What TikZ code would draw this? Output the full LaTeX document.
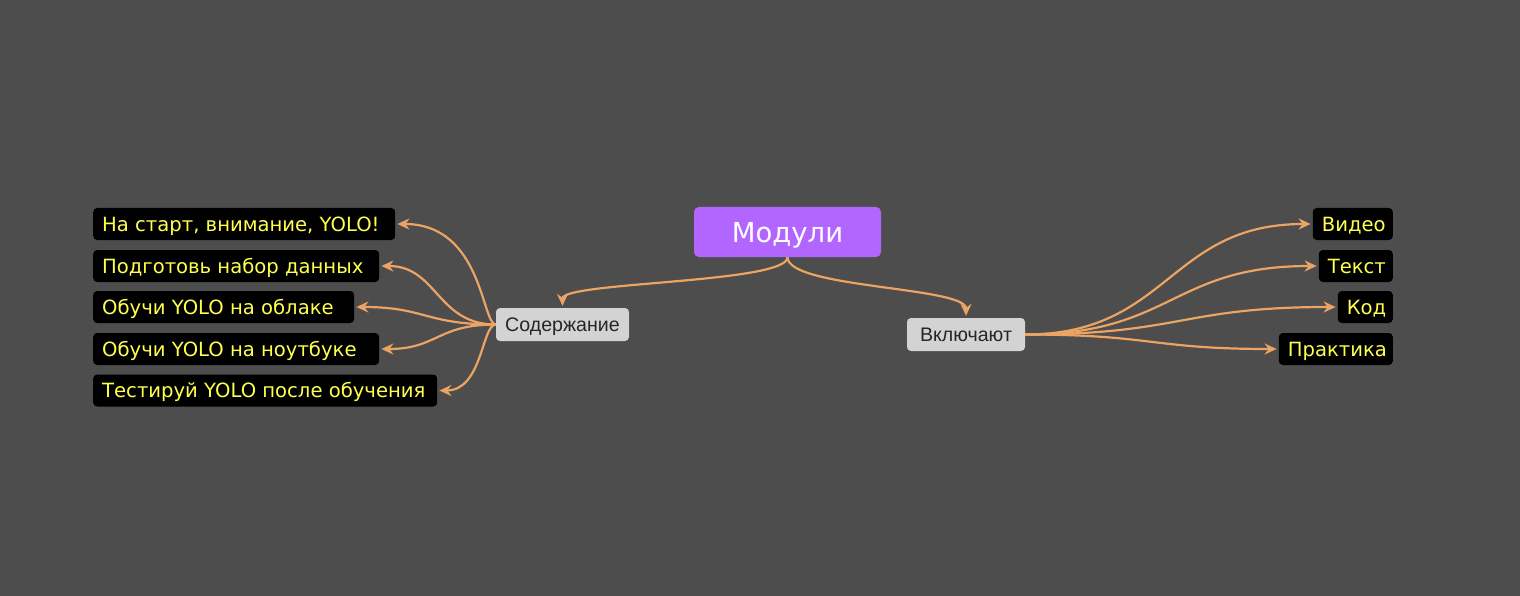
\documentclass[tikz,border=0pt]{standalone}
\usepackage{fontspec}
\setmainfont{DejaVu Sans}
\newfontfamily\midfont{Liberation Sans}
\usetikzlibrary{arrows.meta}
\definecolor{bgc}{HTML}{4D4D4D}
\definecolor{rootc}{HTML}{B266FF}
\definecolor{midc}{HTML}{D3D3D3}
\definecolor{edgec}{HTML}{EBA463}
\definecolor{leaftxt}{HTML}{FFFF4D}
\newcommand{\lbx}[2]{\makebox[#1][l]{#2}}
\tikzset{
  x=1pt, y=1pt,
  rootbox/.style={fill=rootc, rounded corners=5pt, text=white, minimum width=187pt, minimum height=50pt, inner sep=0pt, text height=22pt, text depth=2pt, font=\fontsize{27.5}{30}\selectfont},
  midbox/.style={fill=midc, rounded corners=4pt, text=black!85, minimum height=33pt, inner sep=0pt, text height=16pt, text depth=2pt, font=\midfont\fontsize{19.6}{22}\selectfont},
  leafbox/.style={fill=black, rounded corners=4pt, text=leaftxt, minimum height=32pt, inner xsep=9pt, inner ysep=0pt, text height=16pt, text depth=1.6pt, font=\fontsize{19.6}{21}\selectfont},
  link/.style={draw=edgec, line width=2.2pt, -{Stealth[length=12pt,width=11pt,inset=4pt]}, shorten >=2pt}
}
\begin{document}
\begin{tikzpicture}
\fill[bgc] (0,0) rectangle (1520,-596);
\useasboundingbox (0,0) rectangle (1520,-596);

\node[rootbox] (root) at (787.5,-232) {Модули};
\node[midbox, minimum width=133pt] (cont) at (562.5,-324.5) {Содержание};
\node[midbox, minimum width=118pt] (incl) at (966,-334.5) {Включают};

\node[leafbox, anchor=west] (l1) at (93,-224) {\lbx{284pt}{На старт, внимание, YOLO!}};
\node[leafbox, anchor=west] (l2) at (93,-266) {\lbx{268pt}{Подготовь набор данных}};
\node[leafbox, anchor=west] (l3) at (93,-307) {\lbx{243pt}{Обучи YOLO на облаке}};
\node[leafbox, anchor=west] (l4) at (93,-349) {\lbx{268pt}{Обучи YOLO на ноутбуке}};
\node[leafbox, anchor=west] (l5) at (93,-390.5) {\lbx{326pt}{Тестируй YOLO после обучения}};

\node[leafbox, anchor=east] (r1) at (1393,-224) {\lbx{62pt}{Видео}};
\node[leafbox, anchor=east] (r2) at (1393,-266) {\lbx{56pt}{Текст}};
\node[leafbox, anchor=east] (r3) at (1393,-307) {\lbx{37pt}{Код}};
\node[leafbox, anchor=east] (r4) at (1393,-349) {\lbx{96pt}{Практика}};

\draw[link] (root.south) .. controls +(0,-26) and +(0,26) .. (cont.north);
\draw[link] (root.south) .. controls +(0,-31) and +(0,31) .. (incl.north);

\draw[link] (cont.west) .. controls +(-14,0) and +(87,0) .. (l1.east);
\draw[link] (cont.west) .. controls +(-59,0) and +(58,0) .. (l2.east);
\draw[link] (cont.west) .. controls +(-71,0) and +(71,0) .. (l3.east);
\draw[link] (cont.west) .. controls +(-59,0) and +(58,0) .. (l4.east);
\draw[link] (cont.west) .. controls +(-14,0) and +(45,0) .. (l5.east);

\draw[link] (incl.east) .. controls +(144,0) and +(-144,0) .. (r1.west);
\draw[link] (incl.east) .. controls +(147,0) and +(-147,0) .. (r2.west);
\draw[link] (incl.east) .. controls +(156,0) and +(-156,0) .. (r3.west);
\draw[link] (incl.east) .. controls +(127,0) and +(-127,0) .. (r4.west);
\end{tikzpicture}
\end{document}
